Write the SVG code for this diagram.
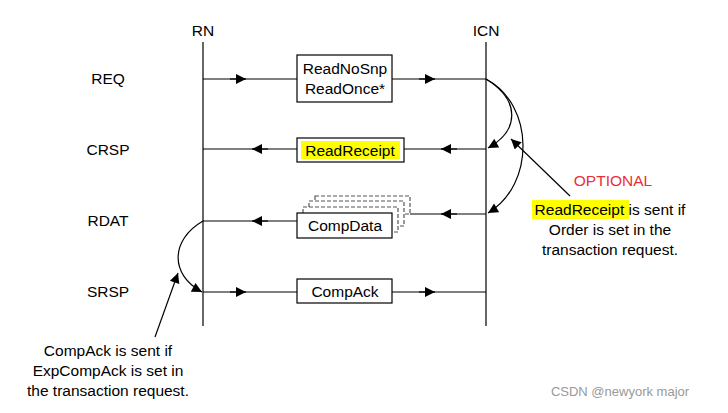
<svg xmlns="http://www.w3.org/2000/svg" width="728" height="413" viewBox="0 0 728 413">
<defs>
<marker id="ah" viewBox="0 0 10 10" refX="10" refY="5" markerWidth="14" markerHeight="10" markerUnits="userSpaceOnUse" orient="auto"><path d="M0,0L10,5L0,10z" fill="#000"/></marker>
<style>
text{font-family:"Liberation Sans",Arial,sans-serif;font-size:15.5px;fill:#000}
.lbl{text-anchor:middle}
.ln{stroke:#000;stroke-width:1.2;fill:none}
.box{fill:#fff;stroke:#000;stroke-width:1.2}
.dash{fill:#fff;stroke:#555;stroke-width:1.2;stroke-dasharray:4,2}
.hl{fill:#ffff00}
</style>
</defs>
<rect width="728" height="413" fill="#fff"/>
<g id="lanes">
<text class="lbl" x="203" y="36">RN</text>
<text class="lbl" x="486" y="36">ICN</text>
<line class="ln" x1="203" y1="42" x2="203" y2="326"/>
<line class="ln" x1="486" y1="42" x2="486" y2="326"/>
<text class="lbl" x="108" y="84">REQ</text>
<text class="lbl" x="108" y="155">CRSP</text>
<text class="lbl" x="108" y="226">RDAT</text>
<text class="lbl" x="108" y="297">SRSP</text>
</g>
<g id="connectors">
<line class="ln" x1="203" y1="79" x2="297" y2="79"/>
<line class="ln" x1="392" y1="79" x2="486" y2="79"/>
<line class="ln" x1="203" y1="149" x2="297" y2="149"/>
<line class="ln" x1="404" y1="149" x2="486" y2="149"/>
<line class="ln" x1="203" y1="221" x2="297" y2="221"/>
<line class="ln" x1="410" y1="214" x2="486" y2="214"/>
<line class="ln" x1="203" y1="292" x2="297" y2="292"/>
<line class="ln" x1="392" y1="292" x2="486" y2="292"/>
<path d="M230,79h16" class="ln" marker-end="url(#ah)"/>
<path d="M419,79h16" class="ln" marker-end="url(#ah)"/>
<path d="M268,149h-16" class="ln" marker-end="url(#ah)"/>
<path d="M457,149h-16" class="ln" marker-end="url(#ah)"/>
<path d="M268,221h-16" class="ln" marker-end="url(#ah)"/>
<path d="M457,214h-16" class="ln" marker-end="url(#ah)"/>
<path d="M230,292h16" class="ln" marker-end="url(#ah)"/>
<path d="M419,292h16" class="ln" marker-end="url(#ah)"/>
<path class="ln" d="M486,79 C520,100 520,130 488,148" marker-end="url(#ah)"/>
<path class="ln" d="M486,79 C535,105 535,185 488,213" marker-end="url(#ah)"/>
<path class="ln" d="M203,221 C170,240 170,275 202,292" marker-end="url(#ah)"/>
<path class="ln" d="M570,196 L511,139" marker-end="url(#ah)"/>
<path class="ln" d="M155,337 L178,273" marker-end="url(#ah)"/>
</g>
<g id="n-read">
<rect class="box" x="297" y="55" width="95" height="47"/>
<text class="lbl" x="345" y="74">ReadNoSnp</text>
<text class="lbl" x="345" y="94">ReadOnce*</text>
</g>
<g id="n-receipt">
<rect class="box" x="297" y="138" width="107" height="24"/>
<rect class="hl" x="301" y="141" width="99" height="18"/>
<text class="lbl" x="350" y="156">ReadReceipt</text>
</g>
<g id="n-compdata">
<rect class="dash" x="315" y="196" width="95" height="18"/>
<rect class="dash" x="309" y="201" width="95" height="25"/>
<rect class="dash" x="303" y="207" width="95" height="25"/>
<rect class="box" x="297" y="213" width="95" height="25"/>
<text class="lbl" x="345" y="231">CompData</text>
</g>
<g id="n-compack">
<rect class="box" x="297" y="279" width="95" height="24"/>
<text class="lbl" x="345" y="297">CompAck</text>
</g>
<g id="notes">
<text class="lbl" x="613" y="186" style="fill:#e8303a">OPTIONAL</text>
<rect class="hl" x="532" y="200" width="97" height="19"/>
<text class="lbl" x="610" y="215">ReadReceipt is sent if</text>
<text class="lbl" x="610" y="235">Order is set in the</text>
<text class="lbl" x="610" y="255">transaction request.</text>
<text class="lbl" x="108" y="356">CompAck is sent if</text>
<text class="lbl" x="108" y="376">ExpCompAck is set in</text>
<text class="lbl" x="108" y="396">the transaction request.</text>
<text x="620" y="396" style="font-size:13px;fill:#999;text-anchor:middle">CSDN @newyork major</text>
</g>
</svg>
